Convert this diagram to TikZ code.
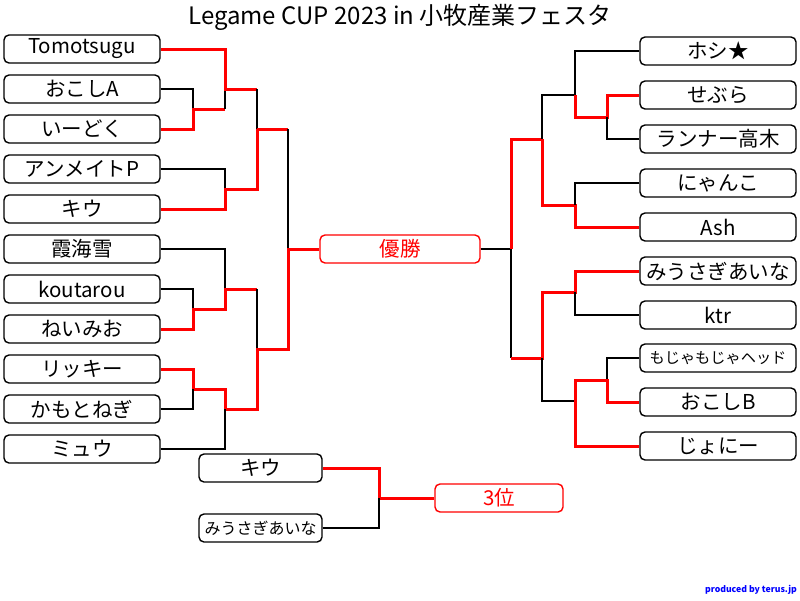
\documentclass[tikz,border=0pt]{standalone}
\usepackage{fontspec}
\setmainfont{Noto Sans CJK JP}
\begin{document}
\begin{tikzpicture}[x=1pt,y=-1pt,
  pbox/.style={draw,rounded corners=5pt,line width=1.4pt,minimum width=156pt,minimum height=28pt,inner sep=0pt,font=\fontsize{20.5}{21}\selectfont},
  wbox/.style={pbox,draw=red,text=red},
  rl/.style={red,line width=3pt},
  bl/.style={black,line width=1.4pt}]
\useasboundingbox (0,0) rectangle (800,600);
\node[font=\fontsize{24}{26}\selectfont] (title) at (400,17) {Legame CUP 2023 in 小牧産業フェスタ};
\node[font=\bfseries\fontsize{8.7}{9}\selectfont,text=blue] (prod) at (751,590) {produced by terus.jp};
% left
\foreach \n/\t/\y in {L1/Tomotsugu/49,L2/おこしA/89,L3/いーどく/129,L4/アンメイトP/169,L5/キウ/209,L6/霞海雪/249,L7/koutarou/289,L8/ねいみお/329,L9/リッキー/369,L10/かもとねぎ/409,L11/ミュウ/449}
  \node[pbox] (\n) at (82,\y) {\t};
% right
\foreach \n/\t/\y in {R1/ホシ★/51,R2/せぶら/95,R3/ランナー高木/139,R4/にゃんこ/183,R5/Ash/227,R6/みうさぎあいな/271,R7/ktr/315,R9/おこしB/402,R10/じょにー/446}
  \node[pbox] (\n) at (718,\y) {\t};
\node[pbox,font=\fontsize{15.2}{16}\selectfont] (R8) at (718,358) {もじゃもじゃヘッド};
\node[wbox,minimum width=160pt] (win) at (400,249) {優勝};
\node[pbox,minimum width=123pt] (T1) at (260.5,468) {キウ};
\node[pbox,minimum width=123pt,font=\fontsize{16}{17}\selectfont] (T2) at (260.5,528) {みうさぎあいな};
\node[wbox,minimum width=128pt] (third) at (499,498) {3位};
% left lines
\draw[bl] (L2.east) -| (193,109);
\draw[rl] (L3.east) -| (193,109) -- (225,109);
\draw[bl] (225,109) -- (225,89);
\draw[rl] (L1.east) -| (225,89) -- (257,89);
\draw[bl] (L4.east) -| (225,189);
\draw[rl] (L5.east) -| (225,189) -- (257,189) -- (257,129);
\draw[bl] (257,89) -- (257,129);
\draw[rl] (257,129) -- (288,129);
\draw[bl] (288,129) -- (288,249);
\draw[bl] (L6.east) -| (225,289);
\draw[bl] (L7.east) -| (193,309);
\draw[rl] (L8.east) -| (193,309) -- (225,309) -- (225,289) -- (257,289);
\draw[bl] (257,289) -- (257,349);
\draw[rl] (L9.east) -| (193,389) -- (225,389) -- (225,409) -- (257,409) -- (257,349) -- (288,349) -- (288,249) -- (win.west);
\draw[bl] (L10.east) -| (193,389);
\draw[bl] (L11.east) -| (225,409);
% right lines
\draw[bl] (win.east) -- (511,249);
\draw[rl] (511,249) -- (511,139) -- (542,139);
\draw[bl] (511,249) -- (511,358);
\draw[bl] (R1.west) -| (575,95);
\draw[bl] (542,139) |- (575,95);
\draw[rl] (R2.west) -| (607,117) -- (575,117) -- (575,95);
\draw[bl] (R3.west) -| (607,117);
\draw[rl] (542,139) -- (542,205) -- (575,205) |- (R5.west);
\draw[bl] (R4.west) -| (575,205);
\draw[rl] (R6.west) -| (575,292) -- (542,292) -- (542,358) -- (511,358);
\draw[bl] (R7.west) -| (575,292);
\draw[bl] (542,358) -- (542,401) -- (575,401);
\draw[bl] (R8.west) -| (607,380);
\draw[rl] (R9.west) -| (607,380) -- (575,380) |- (R10.west);
% third place
\draw[rl] (T1.east) -| (379,498) -- (third.west);
\draw[bl] (T2.east) -| (379,498);
\end{tikzpicture}
\end{document}
